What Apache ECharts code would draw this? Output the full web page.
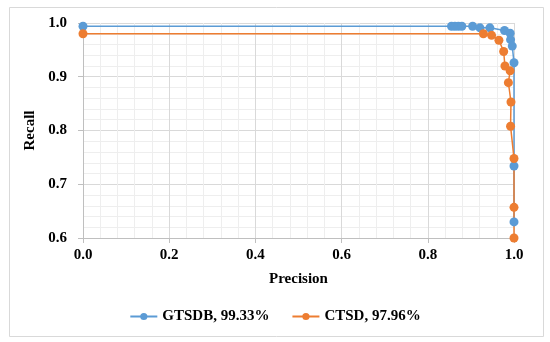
<!DOCTYPE html>
<html>
<head>
<meta charset="utf-8">
<script src="https://cdn.jsdelivr.net/npm/echarts@6/dist/echarts.min.js"></script>
<style>
html,body{margin:0;padding:0;background:#fff;}
#chart{width:550px;height:342px;}
</style>
</head>
<body>
<div id="chart"></div>
<script>
var seriesNames = ['GTSDB, 99.33%', 'CTSD, 97.96%'];
var gtsdbPrecision = [0, 0.855, 0.863, 0.871, 0.879, 0.904, 0.921, 0.944, 0.978, 0.991, 0.992, 0.996, 1.0, 1.0, 1.0];
var gtsdbRecall    = [0.994, 0.994, 0.994, 0.994, 0.994, 0.994, 0.991, 0.991, 0.986, 0.981, 0.969, 0.957, 0.926, 0.734, 0.630];
var ctsdPrecision  = [0, 0.929, 0.948, 0.965, 0.976, 0.979, 0.991, 0.987, 0.993, 0.992, 1.0, 1.0, 1.0];
var ctsdRecall     = [0.980, 0.980, 0.977, 0.968, 0.947, 0.920, 0.911, 0.889, 0.853, 0.808, 0.748, 0.657, 0.600];
var xTitle = 'Precision';
var yTitle = 'Recall';

function pairs(xs, ys) { return xs.map(function (x, i) { return [x, ys[i]]; }); }

var font = '"Liberation Serif", "Times New Roman", serif';
var chart = echarts.init(document.getElementById('chart'), null, { renderer: 'canvas' });
chart.setOption({
  animation: false,
  backgroundColor: '#fff',
  graphic: [{
    type: 'rect', left: 7, top: 5, shape: { width: 534, height: 329 },
    style: { fill: 'none', stroke: '#d9d9d9', lineWidth: 1 }, silent: true, z: -1
  }],
  grid: { left: 83, right: 36, top: 23, bottom: 104, containLabel: false },
  legend: {
    bottom: 13, left: 'center', itemWidth: 27, itemHeight: 9, itemGap: 22,
    textStyle: { fontFamily: font, fontWeight: 'bold', fontSize: 15, color: '#000' },
    data: seriesNames
  },
  xAxis: {
    type: 'value', min: 0, max: 1, interval: 0.2,
    name: xTitle, nameLocation: 'middle', nameGap: 34,
    nameTextStyle: { fontFamily: font, fontWeight: 'bold', fontSize: 15, color: '#000' },
    axisLine: { show: true, lineStyle: { color: '#bfbfbf', width: 1 } },
    axisTick: { show: true, length: 5, lineStyle: { color: '#bfbfbf' } },
    axisLabel: { fontFamily: font, fontWeight: 'bold', fontSize: 15, color: '#000', margin: 10,
      formatter: function (v) { return v.toFixed(1); } },
    splitLine: { show: true, lineStyle: { color: '#d9d9d9', width: 1 } },
    minorTick: { show: false, splitNumber: 5 },
    minorSplitLine: { show: true, lineStyle: { color: '#eeeeee', width: 1 } }
  },
  yAxis: {
    type: 'value', min: 0.6, max: 1.0, interval: 0.1,
    name: yTitle, nameLocation: 'middle', nameGap: 42, nameRotate: 90,
    nameTextStyle: { fontFamily: font, fontWeight: 'bold', fontSize: 15, color: '#000' },
    axisLine: { show: true, lineStyle: { color: '#bfbfbf', width: 1 } },
    axisTick: { show: true, length: 5, lineStyle: { color: '#bfbfbf' } },
    axisLabel: { fontFamily: font, fontWeight: 'bold', fontSize: 15, color: '#000', margin: 16,
      formatter: function (v) { return v.toFixed(1); } },
    splitLine: { show: true, lineStyle: { color: '#d9d9d9', width: 1 } },
    minorTick: { show: false, splitNumber: 5 },
    minorSplitLine: { show: true, lineStyle: { color: '#eeeeee', width: 1 } }
  },
  series: [
    {
      name: seriesNames[0], type: 'line', data: pairs(gtsdbPrecision, gtsdbRecall),
      symbol: 'circle', symbolSize: 9, clip: false,
      lineStyle: { color: '#5B9BD5', width: 1.5 },
      itemStyle: { color: '#5B9BD5' }
    },
    {
      name: seriesNames[1], type: 'line', data: pairs(ctsdPrecision, ctsdRecall),
      symbol: 'circle', symbolSize: 9, clip: false,
      lineStyle: { color: '#ED7D31', width: 1.5 },
      itemStyle: { color: '#ED7D31' }
    }
  ]
});
</script>
</body>
</html>
